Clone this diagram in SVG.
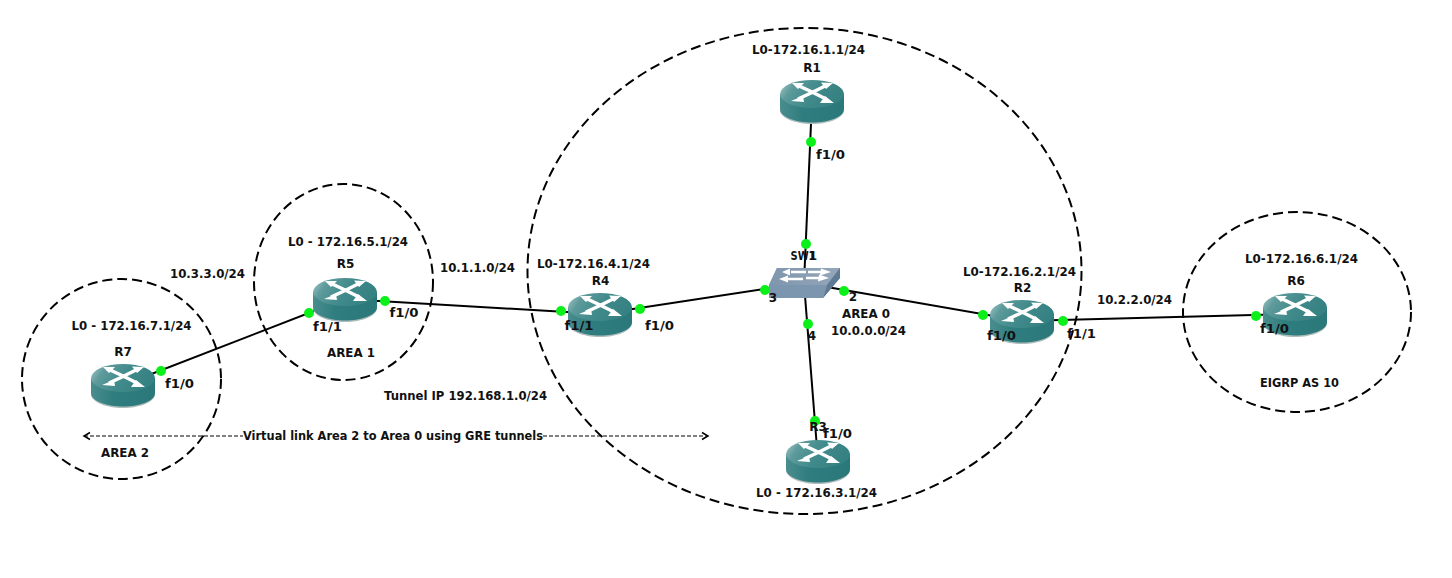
<svg xmlns="http://www.w3.org/2000/svg" width="1452" height="578" viewBox="0 0 1452 578">
<style>
text{font-family:"DejaVu Sans","Liberation Sans",sans-serif;font-weight:bold;font-size:12px;fill:#111;text-anchor:middle}
.area{fill:none;stroke:#000;stroke-width:2;stroke-dasharray:10 5}
.link{fill:none;stroke:#000;stroke-width:2}
.dot{fill:#0cf01a}
.virt{fill:none;stroke:#000;stroke-width:1;stroke-dasharray:4 2}
.arrow{fill:none;stroke:#000;stroke-width:1.500}
.side{fill:url(#rs)}
.top{fill:url(#rt)}
.ar{fill:#fff}
.band{fill:none;stroke:#fff;stroke-width:3.500}
.band2{fill:none;stroke:#fff;stroke-width:2.500}
</style>
<defs>
<linearGradient id="rs" x1="0" x2="1" y1="0" y2="0"><stop offset="0" stop-color="#4a8d8e"/><stop offset="0.35" stop-color="#2f7d7e"/><stop offset="1" stop-color="#2a7879"/></linearGradient>
<linearGradient id="rt" x1="0" x2="1" y1="0" y2="0.3"><stop offset="0" stop-color="#a9caca"/><stop offset="0.25" stop-color="#5d9a9b"/><stop offset="0.6" stop-color="#418a8b"/><stop offset="1" stop-color="#368182"/></linearGradient>
<linearGradient id="st" x1="0" x2="1" y1="0" y2="0"><stop offset="0" stop-color="#7f96ad"/><stop offset="1" stop-color="#94a6b9"/></linearGradient>
<g id="router">
<path d="M-32 -6V9C-32 17-17 23 0 23S32 17 32 9V-6Z" fill="#aebcbc"/>
<path class="side" d="M-32 -7V8C-32 16-17 21.500 0 21.500S32 16 32 8V-7Z"/>
<ellipse class="top" cx="0" cy="-7" rx="32" ry="14"/>
<path class="band" d="M-15 -16L-1 -9.500L14 -2"/>
<path class="band" d="M15 -16L-1 -8L-14 -2"/>
<path class="ar" d="M-20 -18L-8 -18L-14 -12ZM21 -18L9 -18.500L14 -12ZM-21 0L-9 -5L-8 1ZM22 2L8 2L13 -5Z"/>
</g>
<marker id="open" markerWidth="9" markerHeight="10" refX="7" refY="5" orient="auto-start-reverse" markerUnits="userSpaceOnUse"><path class="arrow" d="M1 1.500L7 5L1 8.500"/></marker>
</defs>
<rect width="1452" height="578" fill="#fff"/>
<g id="areas">
<ellipse class="area" cx="804.500" cy="271" rx="277" ry="243"/>
<ellipse class="area" cx="343.500" cy="282" rx="89.500" ry="98"/>
<ellipse class="area" cx="121.500" cy="379" rx="99.500" ry="100"/>
<ellipse class="area" cx="1297" cy="312" rx="114" ry="100"/>
</g>
<g id="connectors">
<path class="link" d="M123 385L345 299"/>
<path class="link" d="M345 299L600 314"/>
<path class="link" d="M600 314L804 283"/>
<path class="link" d="M812 101L804 283"/>
<path class="link" d="M804 283L1022 321"/>
<path class="link" d="M804 283L818 461"/>
<path class="link" d="M1022 321L1295 314"/>
<path class="virt" d="M84 436H243" marker-start="url(#open)"/>
<path class="virt" d="M543 436H708" marker-end="url(#open)"/>
</g>
<g id="R1"><use href="#router" x="812" y="101"/><text x="812" y="72">R1</text><text x="808.500" y="54" textLength="113" lengthAdjust="spacingAndGlyphs">L0-172.16.1.1/24</text></g>
<g id="R2"><use href="#router" x="1022" y="321"/><text x="1022.500" y="292">R2</text><text x="1019.500" y="276" textLength="113" lengthAdjust="spacingAndGlyphs">L0-172.16.2.1/24</text></g>
<g id="R3"><use href="#router" x="818" y="461"/></g>
<g id="R4"><use href="#router" x="600" y="314"/><text x="600.500" y="285">R4</text><text x="593.500" y="268" textLength="113" lengthAdjust="spacingAndGlyphs">L0-172.16.4.1/24</text></g>
<g id="R5"><use href="#router" x="345" y="299"/><text x="345.500" y="268">R5</text><text x="348" y="246" textLength="120" lengthAdjust="spacingAndGlyphs">L0 - 172.16.5.1/24</text></g>
<g id="R6"><use href="#router" x="1295" y="314"/><text x="1296" y="285">R6</text><text x="1301.500" y="263" textLength="113" lengthAdjust="spacingAndGlyphs">L0-172.16.6.1/24</text></g>
<g id="R7"><use href="#router" x="123" y="385"/><text x="123" y="356">R7</text><text x="131.500" y="330" textLength="120" lengthAdjust="spacingAndGlyphs">L0 - 172.16.7.1/24</text></g>
<g id="SW1">
<path d="M769 285L777 268H840V278L823 298H769Z" fill="#7a93ad"/>
<path d="M769 285L777 268H840L827 285Z" fill="url(#st)"/>
<path d="M827 285L840 268V278L823 298Z" fill="#5f7a94"/>
<path d="M769 285H827L823 298H769Z" fill="#7d96b0"/>
<path class="band2" d="M791 272H806M808 272H822"/>
<path class="band2" d="M788 279H803M806 278H820"/>
<path class="ar" d="M790 268.500V275.500L782 272ZM821 268.500L831 272L820 275.500ZM788 275.500V282.500L779 279ZM819 274.500L829 278L818 281.500Z"/>
</g>
<g id="ports">
<circle class="dot" cx="811" cy="142" r="5"/><circle class="dot" cx="806" cy="244" r="5"/>
<circle class="dot" cx="765" cy="290" r="5"/><circle class="dot" cx="844" cy="291" r="5"/>
<circle class="dot" cx="808" cy="324" r="5"/><circle class="dot" cx="815" cy="421" r="5"/>
<circle class="dot" cx="983" cy="315" r="5"/><circle class="dot" cx="1063" cy="321" r="5"/>
<circle class="dot" cx="1256" cy="316" r="5"/><circle class="dot" cx="640" cy="309" r="5"/>
<circle class="dot" cx="561" cy="311" r="5"/><circle class="dot" cx="385" cy="301" r="5"/>
<circle class="dot" cx="309" cy="313" r="5"/><circle class="dot" cx="161" cy="371" r="5"/>
</g>
<g id="labels">
<text x="830.500" y="159" textLength="29" lengthAdjust="spacingAndGlyphs">f1/0</text>
<text x="803" y="260" textLength="25" lengthAdjust="spacingAndGlyphs">SW1</text>
<text x="813" y="260">1</text>
<text x="773" y="302">3</text>
<text x="853" y="301">2</text>
<text x="812" y="340">4</text>
<text x="866" y="318" textLength="48" lengthAdjust="spacingAndGlyphs">AREA 0</text>
<text x="868.500" y="335" textLength="75" lengthAdjust="spacingAndGlyphs">10.0.0.0/24</text>
<text x="818" y="431">R3</text>
<text x="837.500" y="438" textLength="29" lengthAdjust="spacingAndGlyphs">f1/0</text>
<text x="816.500" y="497" textLength="121" lengthAdjust="spacingAndGlyphs">L0 - 172.16.3.1/24</text>
<text x="1001.500" y="340" textLength="29" lengthAdjust="spacingAndGlyphs">f1/0</text>
<text x="1081.500" y="338" textLength="29" lengthAdjust="spacingAndGlyphs">f1/1</text>
<text x="1134.500" y="304" textLength="75" lengthAdjust="spacingAndGlyphs">10.2.2.0/24</text>
<text x="1274.500" y="333" textLength="29" lengthAdjust="spacingAndGlyphs">f1/0</text>
<text x="1299.500" y="387" textLength="79" lengthAdjust="spacingAndGlyphs">EIGRP AS 10</text>
<text x="579" y="330" textLength="29" lengthAdjust="spacingAndGlyphs">f1/1</text>
<text x="659.500" y="330" textLength="29" lengthAdjust="spacingAndGlyphs">f1/0</text>
<text x="477.500" y="272" textLength="75" lengthAdjust="spacingAndGlyphs">10.1.1.0/24</text>
<text x="404" y="317" textLength="29" lengthAdjust="spacingAndGlyphs">f1/0</text>
<text x="327.500" y="331" textLength="29" lengthAdjust="spacingAndGlyphs">f1/1</text>
<text x="351" y="357" textLength="48" lengthAdjust="spacingAndGlyphs">AREA 1</text>
<text x="207.500" y="278" textLength="75" lengthAdjust="spacingAndGlyphs">10.3.3.0/24</text>
<text x="179.500" y="388" textLength="29" lengthAdjust="spacingAndGlyphs">f1/0</text>
<text x="125" y="457" textLength="48" lengthAdjust="spacingAndGlyphs">AREA 2</text>
<text x="465.500" y="400" textLength="163" lengthAdjust="spacingAndGlyphs">Tunnel IP 192.168.1.0/24</text>
<text x="393" y="440" textLength="300" lengthAdjust="spacingAndGlyphs">Virtual link Area 2 to Area 0 using GRE tunnels</text>
</g>
</svg>
